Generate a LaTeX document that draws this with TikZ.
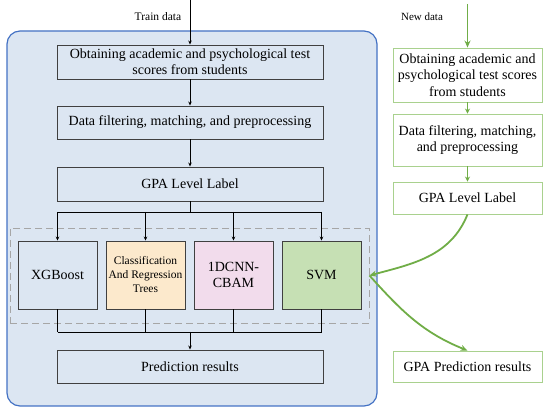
\documentclass[tikz,border=0pt]{standalone}
\usepackage{fontspec}
\setmainfont{Liberation Serif}
\usetikzlibrary{arrows.meta}
\definecolor{panelfill}{RGB}{220,230,242}
\definecolor{panelborder}{RGB}{68,114,196}
\definecolor{boxborder}{RGB}{64,64,64}
\definecolor{xgbfill}{RGB}{220,230,242}
\definecolor{cartfill}{RGB}{252,233,204}
\definecolor{cnnfill}{RGB}{242,220,236}
\definecolor{svmfill}{RGB}{198,224,180}
\definecolor{gline}{RGB}{112,173,71}
\definecolor{gborder}{RGB}{169,209,142}
\definecolor{dashgray}{RGB}{166,166,166}
\tikzset{
  mainbox/.style={draw=boxborder, line width=0.9pt, fill=panelfill, inner sep=0pt, align=center,
    minimum width=266pt, font=\fontsize{14}{16}\selectfont},
  modelbox/.style={draw=boxborder, line width=0.9pt, inner sep=0pt, align=center,
    minimum width=79pt, minimum height=68pt, font=\fontsize{14}{16}\selectfont},
  rbox/.style={draw=gborder, line width=0.9pt, fill=white, inner sep=0pt, align=center,
    minimum width=149pt, font=\fontsize{14}{16.5}\selectfont},
  blk/.style={draw=black, line width=0.8pt, -{Stealth[length=4pt,width=3.5pt]}},
  bline/.style={draw=black, line width=0.8pt},
  grn/.style={draw=gline, line width=1.8pt, -{Stealth[length=7pt,width=6pt]}},
}
\begin{document}
\begin{tikzpicture}[x=1pt,y=1pt]
\useasboundingbox (0,0) rectangle (550,-414);
% panel
\draw[panelborder, line width=1.2pt, fill=panelfill, rounded corners=13pt] (7,-31) rectangle (377,-406);
% dashed group
\node[draw=dashgray, line width=0.9pt, dash pattern=on 7pt off 4pt, minimum width=359pt, minimum height=95pt, inner sep=0pt] (grp) at (189.5,-275.5) {};
% left column
\coordinate (tstart) at (190,0);
\node[font=\fontsize{11.5}{13}\selectfont] (tlabel) at (158,-17) {Train data};
\node[mainbox, minimum height=34pt] (b1) at (190,-62) {Obtaining academic and psychological test\\scores from students};
\node[mainbox, minimum height=33pt] (b2) at (190,-122.5) {Data filtering, matching, and preprocessing};
\node[mainbox, minimum height=34pt] (b3) at (190,-184) {GPA Level Label};
\node[modelbox, fill=xgbfill] (m1) at (57.5,-275) {XGBoost};
\node[modelbox, fill=cartfill, font=\fontsize{11.5}{14}\selectfont] (m2) at (145.5,-275) {Classification\\And Regression\\Trees};
\node[modelbox, fill=cnnfill] (m3) at (233.5,-275) {1DCNN-\\CBAM};
\node[modelbox, fill=svmfill] (m4) at (321.5,-275) {SVM};
\node[mainbox, minimum height=33pt] (p) at (190,-366.5) {Prediction results};
\draw[blk] (tstart) -- (b1.north);
\draw[blk] (b1) -- (b2);
\draw[blk] (b2) -- (b3);
\coordinate (split) at (190,-212);
\coordinate (merge) at (190,-332);
\draw[bline] (b3.south) -- (split);
\draw[bline] (m1.north |- split) -- (m4.north |- split);
\foreach \m in {m1,m2,m3,m4}{
  \draw[blk] (\m.north |- split) -- (\m.north);
  \draw[bline] (\m.south) -- (\m.south |- merge);
}
\draw[bline] (m1.south |- merge) -- (m4.south |- merge);
\draw[blk] (merge) -- (p.north);
% right column
\coordinate (nstart) at (467.5,-4);
\node[font=\fontsize{11}{13}\selectfont] (nlabel) at (422,-17) {New data};
\node[rbox, minimum height=54pt] (r1) at (467.5,-75) {Obtaining academic and\\psychological test scores\\from students};
\node[rbox, minimum height=52pt] (r2) at (467.5,-140) {Data filtering, matching,\\and preprocessing};
\node[rbox, minimum height=32pt] (r3) at (467.5,-198) {GPA Level Label};
\node[rbox, minimum height=31pt] (r4) at (467.5,-366.5) {GPA Prediction results};
\draw[grn] (nstart) -- (r1.north);
\draw[grn, -{Stealth[length=5pt,width=5pt]}] (r1) -- (r2);
\draw[grn, -{Stealth[length=5pt,width=5pt]}] (r2) -- (r3);
\draw[grn] (r3.south) to[out=-112, in=15] (grp.east);
\draw[grn] (grp.east) to[out=-48, in=158] (r4.north);
\end{tikzpicture}
\end{document}
